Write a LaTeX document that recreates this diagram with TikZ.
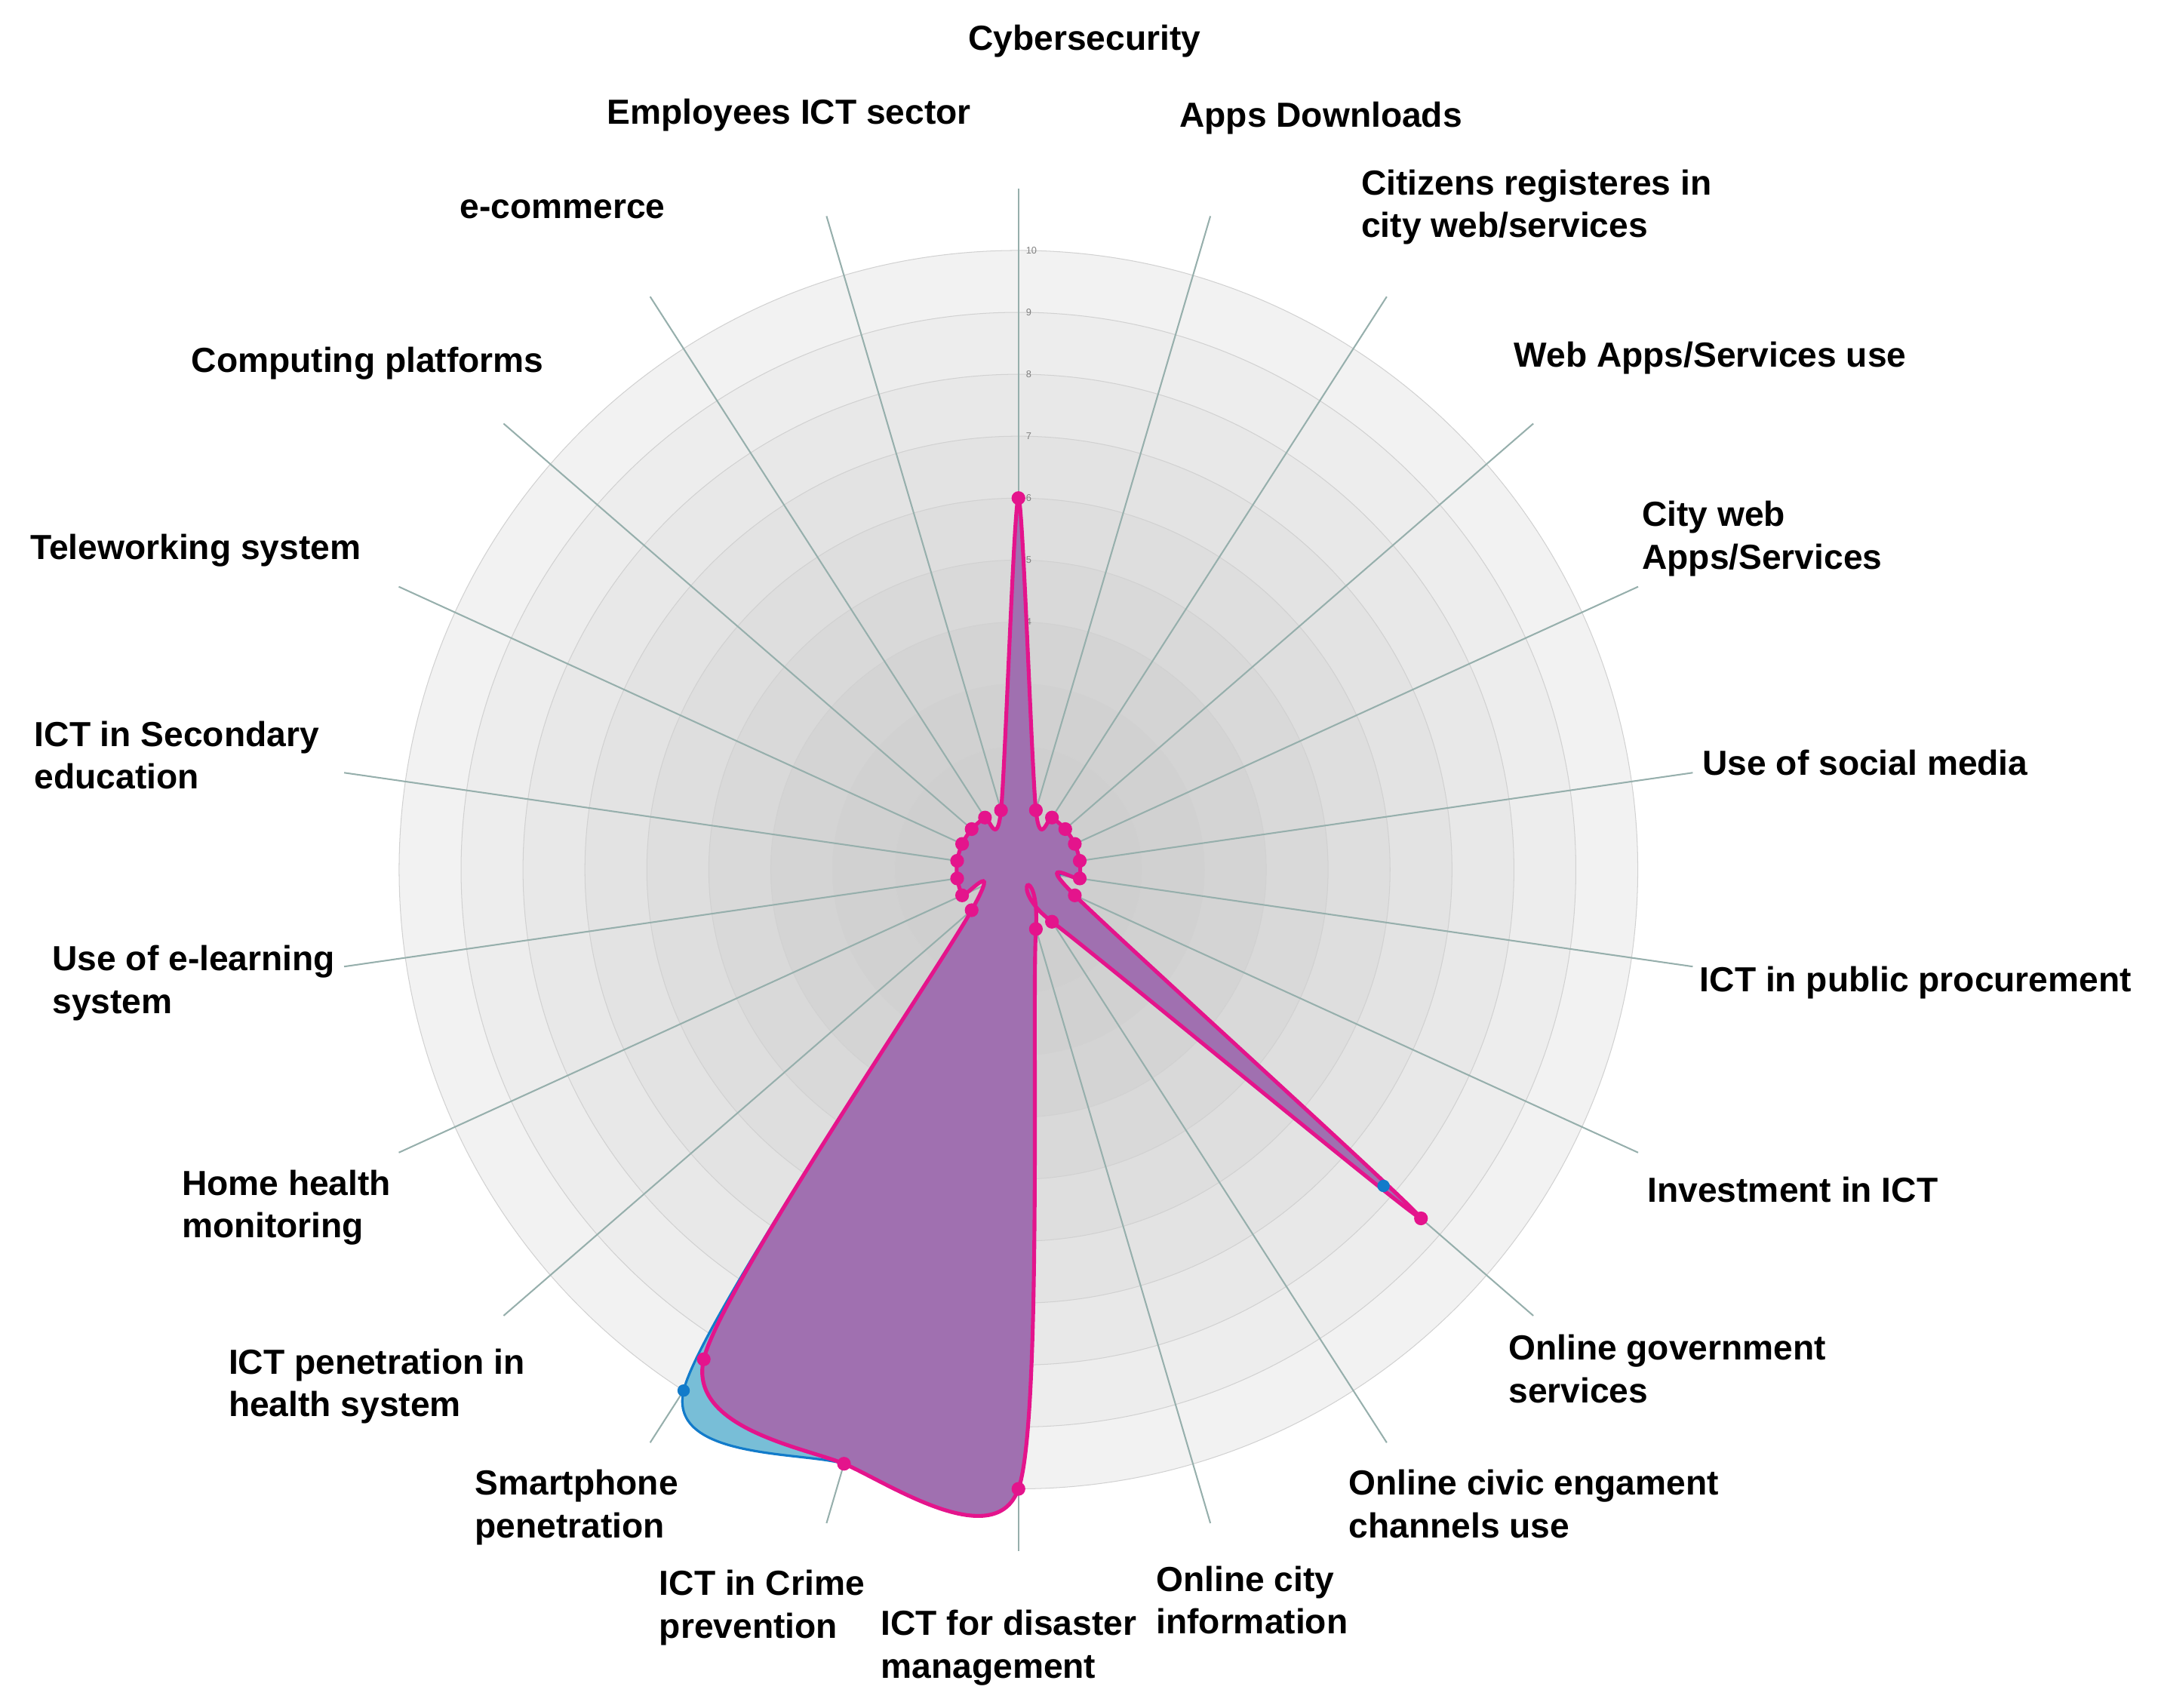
\documentclass[tikz,border=0pt]{standalone}
\usepackage{fontspec}
\setmainfont{Liberation Sans}
\usetikzlibrary{calc}
\begin{document}
\begin{tikzpicture}[x=0.05cm,y=0.05cm,
  lab/.style={font=\fontsize{36}{44}\selectfont\bfseries, inner sep=0pt, align=left, anchor=north west},
  ax/.style={draw={rgb,255:red,150;green,175;blue,172}, line width=1.6pt}]
\definecolor{mag}{RGB}{228,20,140}
\definecolor{purp}{RGB}{160,112,176}
\definecolor{bfill}{RGB}{120,190,215}
\useasboundingbox (0,0) rectangle (1568,1241);
\coordinate (c) at (740,609);
% rings
\foreach \r/\g in {10/5,9/7,8/9,7/11,6/13,5/15,4/17,3/18,2/19,1/20}{
  \fill[black!\g, draw=black!18, line width=0.8pt] (c) circle ({\r*45});
}
% axes
\foreach \i in {0,...,21}{
  \draw[ax] (c) -- ($(c)+({90-\i*360/22}:495)$);
}
% scale numbers
\foreach \k in {1,...,10}{
  \node[font=\fontsize{10}{11}\selectfont, text=gray, anchor=west] (t\k) at ($(c)+(3,\k*45)$) {\k};
}
\foreach \v [count=\i from 0] in {6,1,1,1,1,1,1,1,7.8,1,1,10,10,10,1,1,1,1,1,1,1,1}
  \coordinate (b\i) at ($(c)+({90-\i*360/22}:{\v*45})$);
\foreach \v [count=\i from 0] in {6,1,1,1,1,1,1,1,8.6,1,1,10,10,9.4,1,1,1,1,1,1,1,1}
  \coordinate (m\i) at ($(c)+({90-\i*360/22}:{\v*45})$);
\fill[bfill, draw=cyan!60!blue, line width=2.5pt]
 plot[smooth cycle, tension=0.45] coordinates {(b0)(b1)(b2)(b3)(b4)(b5)(b6)(b7)(b8)(b9)(b10)(b11)(b12)(b13)(b14)(b15)(b16)(b17)(b18)(b19)(b20)(b21)};
\fill[purp]
 plot[smooth cycle, tension=0.45] coordinates {(m0)(m1)(m2)(m3)(m4)(m5)(m6)(m7)(m8)(m9)(m10)(m11)(m12)(m13)(m14)(m15)(m16)(m17)(m18)(m19)(m20)(m21)};
\draw[mag, line width=4pt]
 plot[smooth cycle, tension=0.45] coordinates {(m0)(m1)(m2)(m3)(m4)(m5)(m6)(m7)(m8)(m9)(m10)(m11)(m12)(m13)(m14)(m15)(m16)(m17)(m18)(m19)(m20)(m21)};
\fill[cyan!60!blue] (b13) circle (4.5);
\fill[cyan!60!blue] (b8) circle (4.5);
\foreach \i in {0,...,21}{
  \fill[mag] (m\i) circle (5);
}
% labels
\node[lab, anchor=center] (l0) at (788,1211) {Cybersecurity};
\node[lab] (l21) at (441,1169) {Employees ICT sector};
\node[lab] (l1) at (857,1167) {Apps Downloads};
\node[lab] (l20) at (334,1096) {e-commerce};
\node[lab] (l2) at (989,1118) {Citizens registeres in\\city web/services};
\node[lab] (l19) at (139,989) {Computing platforms};
\node[lab] (l3) at (1100,993) {Web Apps/Services use};
\node[lab] (l4) at (1193,877) {City web\\Apps/Services};
\node[lab] (l18) at (22,853) {Teleworking system};
\node[lab] (l17) at (25,717) {ICT in Secondary\\education};
\node[lab] (l5) at (1237,696) {Use of social media};
\node[lab] (l16) at (38,554) {Use of e-learning\\system};
\node[lab] (l6) at (1235,539) {ICT in public procurement};
\node[lab] (l15) at (132,391) {Home health\\monitoring};
\node[lab] (l7) at (1197,386) {Investment in ICT};
\node[lab] (l14) at (166,261) {ICT penetration in\\health system};
\node[lab] (l8) at (1096,271) {Online government\\services};
\node[lab] (l13) at (345,173) {Smartphone\\penetration};
\node[lab] (l9) at (980,173) {Online civic engament\\channels use};
\node[lab] (l12) at (479,100) {ICT in Crime\\prevention};
\node[lab] (l10) at (840,103) {Online city\\information};
\node[lab] (l11) at (640,71) {ICT for disaster\\management};
\end{tikzpicture}
\end{document}
